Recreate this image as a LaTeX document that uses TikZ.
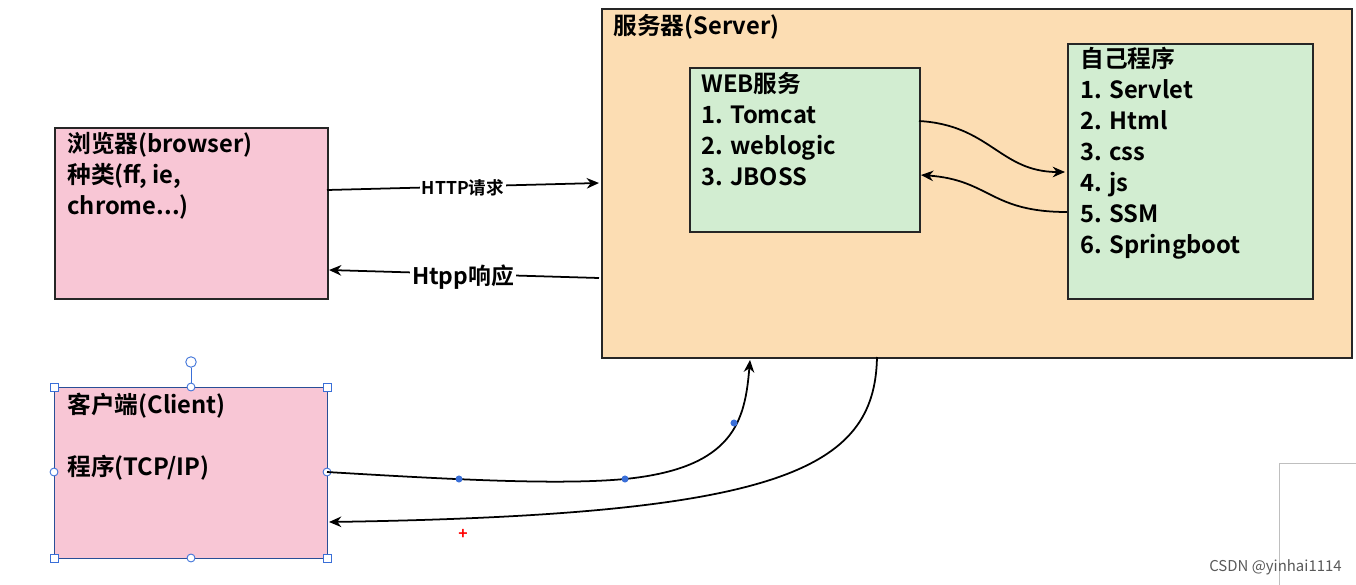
\documentclass[tikz,border=0pt]{standalone}
\usepackage{fontspec}
\setmainfont{Noto Sans CJK SC}[BoldFont={* Bold}]
\usetikzlibrary{arrows.meta}
\definecolor{peach}{HTML}{FCDDB3}
\definecolor{grn}{HTML}{D2EDD1}
\definecolor{pnk}{HTML}{F8C6D5}
\definecolor{selb}{HTML}{3A6FD8}
\tikzset{x=0.02cm,y=-0.02cm,
 box/.style={draw=black!85,line width=1.1pt},
 txt/.style={font=\bfseries\fontsize{13.5}{17.6}\selectfont,align=left,anchor=north west,inner sep=0pt},
 arr/.style={line width=1pt,-{Stealth[length=7pt,width=6pt]}},
 hdl/.style={draw=selb,fill=white,line width=0.5pt,inner sep=0pt,minimum size=4.5pt}}
\begin{document}
\begin{tikzpicture}
\useasboundingbox (0,0) rectangle (1356,585);
\node[box,fill=peach,minimum width=750*0.02cm,minimum height=349*0.02cm,anchor=north west,inner sep=0pt] (srv) at (601,8) {};
\node[txt] (srvt) at (613,14) {服务器(Server)};
\node[box,fill=grn,minimum width=230*0.02cm,minimum height=164*0.02cm,anchor=north west,inner sep=0pt] (web) at (689,67) {};
\node[txt] (webt) at (701,72) {WEB服务\\1. Tomcat\\2. weblogic\\3. JBOSS};
\node[box,fill=grn,minimum width=245*0.02cm,minimum height=255*0.02cm,anchor=north west,inner sep=0pt] (own) at (1067,43) {};
\node[txt] (ownt) at (1080,47) {自己程序\\1. Servlet\\2. Html\\3. css\\4. js\\5. SSM\\6. Springboot};
\node[box,fill=pnk,minimum width=273*0.02cm,minimum height=171*0.02cm,anchor=north west,inner sep=0pt] (br) at (54,127) {};
\node[txt] (brt) at (67,132) {浏览器(browser)\\种类(ff, ie,\\chrome...)};
\node[box,fill=pnk,draw=selb!70!black,line width=0.8pt,minimum width=273*0.02cm,minimum height=171*0.02cm,anchor=north west,inner sep=0pt] (cl) at (54,387) {};
\node[txt] (clt) at (67,393) {客户端(Client)\\[17.6pt]程序(TCP/IP)};
% selection handles
\coordinate (ht) at (191,387);
\node[hdl,circle,minimum size=6pt] (rot) at (191,362) {};
\draw[selb,line width=0.5pt] (rot) -- (ht);
\node[hdl] (h1) at (54,387) {}; \node[hdl,circle] (h2) at (191,387) {}; \node[hdl] (h3) at (327,387) {};
\node[hdl,circle] (h4) at (54,472) {}; \node[hdl,circle] (h5) at (327,472) {};
\node[hdl] (h6) at (54,558) {}; \node[hdl,circle] (h7) at (191,558) {}; \node[hdl] (h8) at (327,558) {};
% http arrows
\coordinate (q1) at (327,190); \coordinate (q2) at (599,183);
\draw[arr] (q1) -- (q2);
\node[font=\bfseries\fontsize{10}{11}\selectfont,fill=white,inner sep=1pt] (ql) at (463,188) {HTTP请求};
\coordinate (r1) at (599,278); \coordinate (r2) at (329,270);
\draw[arr] (r1) -- (r2);
\node[font=\bfseries\fontsize{13}{14}\selectfont,fill=white,inner sep=1pt] (rl) at (463,277) {Htpp响应};
% web <-> own
\coordinate (w1) at (919,121); \coordinate (o1) at (1065,172);
\draw[arr] (w1) .. controls (990,125) and (1000,172) .. (o1);
\coordinate (o2) at (1067,212); \coordinate (w2) at (921,175);
\draw[arr] (o2) .. controls (990,212) and (990,180) .. (w2);
% client <-> server
\coordinate (c1) at (327,472); \coordinate (s1) at (750,360);
\draw[arr] (c1) .. controls (460,480) and (560,485) .. (625,479) .. controls (735,468) and (745,420) .. (s1);
\coordinate (s2) at (877,357); \coordinate (c2) at (329,522);
\draw[arr] (s2) .. controls (875,470) and (780,515) .. (c2);
\fill[selb] (459,479) circle (2pt) (625,479) circle (2pt) (734,423) circle (2pt);
\node[red,font=\bfseries\fontsize{9}{9}\selectfont,inner sep=0pt] (plus) at (463,534) {+};
% bottom right
\node[draw=black!25,fill=white,minimum width=90*0.02cm,minimum height=130*0.02cm,anchor=north west,inner sep=0pt] (wb) at (1279,463) {};
\node[font=\fontsize{8.5}{10}\selectfont,text=black!65,inner sep=0pt,anchor=east] (wm) at (1342,567) {CSDN @yinhai1114};
\end{tikzpicture}
\end{document}
